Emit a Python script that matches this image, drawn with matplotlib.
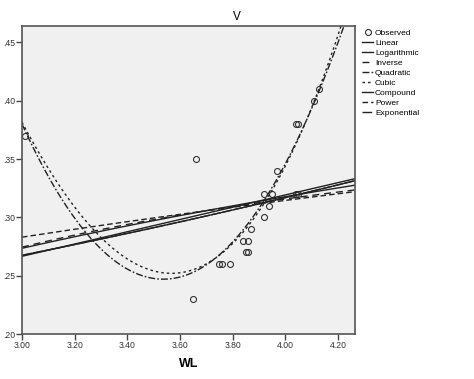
import numpy as np
import matplotlib
matplotlib.use("Agg")
import matplotlib.pyplot as plt
from matplotlib.ticker import FuncFormatter

# observed points
wl = np.array([3.01, 3.65, 3.66, 3.75, 3.76, 3.79, 3.84, 3.85, 3.86, 3.86, 3.87,
               3.92, 3.92, 3.94, 3.95, 3.97, 4.04, 4.05, 4.04, 4.05, 4.11, 4.13])
v = np.array([0.37, 0.23, 0.35, 0.26, 0.26, 0.26, 0.28, 0.27, 0.27, 0.28, 0.29,
              0.30, 0.32, 0.31, 0.32, 0.34, 0.32, 0.32, 0.38, 0.38, 0.40, 0.41])

x_ticks = [3.00, 3.20, 3.40, 3.60, 3.80, 4.00, 4.20]
y_ticks = [0.20, 0.25, 0.30, 0.35, 0.40, 0.45]
models = ['Linear', 'Logarithmic', 'Inverse', 'Quadratic', 'Cubic',
          'Compound', 'Power', 'Exponential']

# fitted model parameters as they appear on the chart
linear_b = [0.1088, 0.0526]          # b0 + b1*x
log_b = [0.1045, 0.1538]             # b0 + b1*ln(x)
inverse_b = [0.4397, -0.4957]        # b0 + b1/x
quad_center, quad_b = 3.537, [0.461, 0.0, 0.247]            # poly in (x - center)
cubic_center, cubic_b = 3.568, [0.0908, 0.453, 0.0, 0.252]
compound_b = [0.1608, 1.1848]        # b0 * b1**x
power_b = [0.1891, 0.367]            # b0 * x**b1
expo_b = [0.1608, 0.1696]            # b0 * exp(b1*x)

plt.rcParams['font.family'] = ['Liberation Sans', 'DejaVu Sans']

fig = plt.figure(figsize=(4.74, 3.79), dpi=100)
ax = fig.add_axes([0.0464, 0.1187, 0.7026, 0.8127])
ax.set_facecolor('#f0f0f0')

xs = np.linspace(3.0, 4.265, 300)

def curve(name):
    if name == 'Linear':
        return linear_b[0] + linear_b[1] * xs
    if name == 'Logarithmic':
        return log_b[0] + log_b[1] * np.log(xs)
    if name == 'Inverse':
        return inverse_b[0] + inverse_b[1] / xs
    if name == 'Quadratic':
        return np.polyval(quad_b, xs - quad_center)
    if name == 'Cubic':
        return np.polyval(cubic_b, xs - cubic_center)
    if name == 'Compound':
        return compound_b[0] * compound_b[1] ** xs
    if name == 'Power':
        return power_b[0] * xs ** power_b[1]
    if name == 'Exponential':
        return expo_b[0] * np.exp(expo_b[1] * xs)

styles = {
    'Linear': dict(ls='-'),
    'Logarithmic': dict(ls='-'),
    'Inverse': dict(ls=(0, (5, 3.5))),
    'Quadratic': dict(ls=(0, (5, 1.5, 1.2, 1.5))),
    'Cubic': dict(ls=(0, (1.8, 2.2))),
    'Compound': dict(ls='-'),
    'Power': dict(ls=(0, (4, 2.2))),
    'Exponential': dict(ls=(0, (7, 1.2))),
}

ax.plot(wl, v, 'o', mfc='none', mec='#333333', ms=4.3, mew=0.8, label='Observed')
for m in models:
    ax.plot(xs, curve(m), color='#222222', lw=1.0, label=m, **styles[m])

ax.set_xlim(3.0, 4.265)
ax.set_ylim(0.20, 0.464)
ax.set_xticks(x_ticks)
ax.set_yticks(y_ticks)
ax.xaxis.set_major_formatter(FuncFormatter(lambda val, p: '%.2f' % val))
ax.yaxis.set_major_formatter(FuncFormatter(lambda val, p: ('%.2f' % val)[1:]))
ax.tick_params(direction='out', length=4, width=1, colors='#444444',
               labelsize=6.2, labelcolor='#333333', pad=1)
for s in ax.spines.values():
    s.set_color('#555555')
    s.set_linewidth(1.2)

ax.set_xlabel('WL', fontsize=9, fontweight='bold', labelpad=6)
fig.text(0.5, 0.955, 'V', ha='center', va='center', fontsize=8.5)

leg = ax.legend(loc='upper left', bbox_to_anchor=(1.005, 1.005), frameon=False,
                fontsize=6, handlelength=1.4, handletextpad=0.2,
                labelspacing=0.26, borderaxespad=0.2)

fig.savefig('out.png', dpi=100)
